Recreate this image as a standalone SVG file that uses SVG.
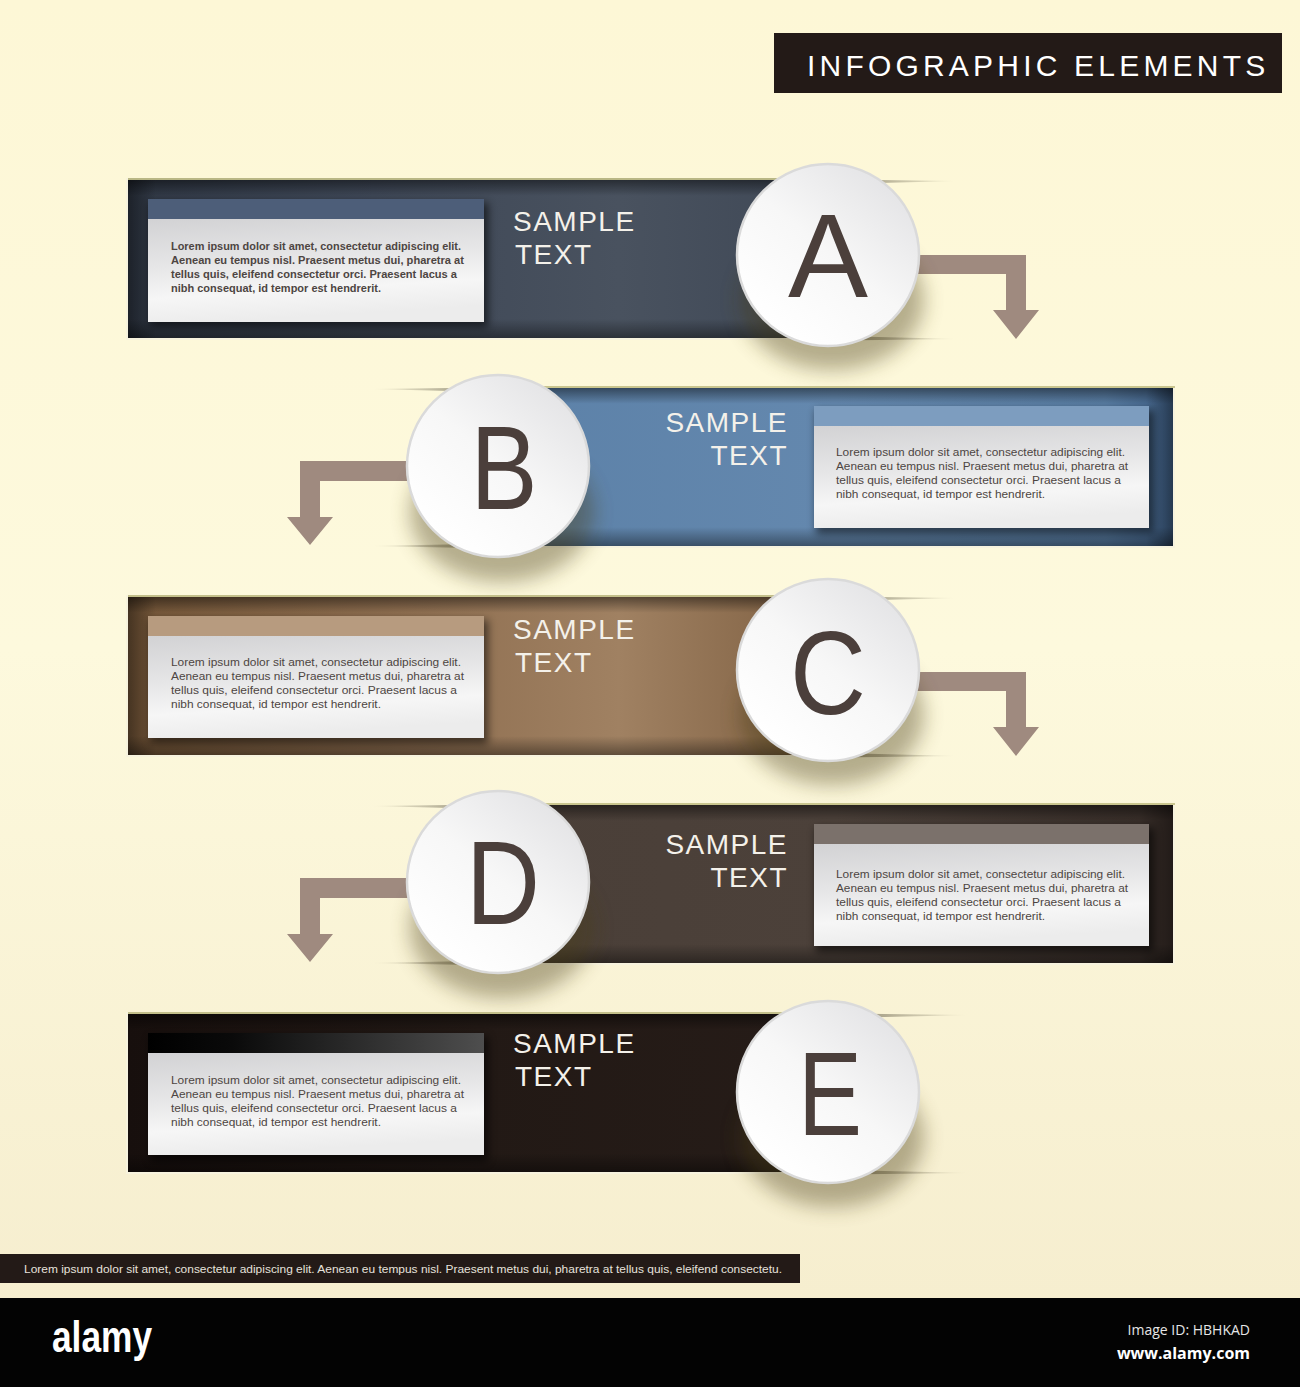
<svg xmlns="http://www.w3.org/2000/svg" width="1300" height="1387" viewBox="0 0 1300 1387">
<defs>
<style>
.sans{font-family:"Liberation Sans",Arial,sans-serif}
.lorem{font-family:"Liberation Sans",Arial,sans-serif;font-size:10.5px;fill:#4d4542}
.sample{font-family:"Liberation Sans",Arial,sans-serif;font-size:28px;letter-spacing:1.5px;fill:#f4f1ea}
.letter{font-family:"Liberation Sans",Arial,sans-serif;font-size:118px;fill:#4b3f3b;text-anchor:middle}
.arrow{fill:#9f8a7f}
.disc{fill:url(#circ);stroke:#dadada;stroke-width:2.5}
</style>
<linearGradient id="bg" x1="0" y1="0" x2="0" y2="1">
<stop offset="0" stop-color="#fdf7d6"/><stop offset="0.5" stop-color="#fdf9dd"/><stop offset="1" stop-color="#f6eecf"/>
</linearGradient>
<linearGradient id="gA" x1="0" y1="0" x2="1" y2="0">
<stop offset="0" stop-color="#303845"/><stop offset="0.35" stop-color="#3e4756"/><stop offset="0.7" stop-color="#49525f"/><stop offset="1" stop-color="#3f4856"/>
</linearGradient>
<linearGradient id="gB" x1="0" y1="0" x2="1" y2="0">
<stop offset="0" stop-color="#5c81a8"/><stop offset="0.5" stop-color="#6488ae"/><stop offset="0.9" stop-color="#587ca2"/><stop offset="1" stop-color="#3f5f85"/>
</linearGradient>
<linearGradient id="gC" x1="0" y1="0" x2="1" y2="0">
<stop offset="0" stop-color="#745638"/><stop offset="0.4" stop-color="#8e6e50"/><stop offset="0.7" stop-color="#a08162"/><stop offset="1" stop-color="#7e5f41"/>
</linearGradient>
<linearGradient id="gD" x1="0" y1="0" x2="1" y2="0">
<stop offset="0" stop-color="#4a3f38"/><stop offset="0.5" stop-color="#4c413a"/><stop offset="0.95" stop-color="#382e29"/><stop offset="1" stop-color="#221b18"/>
</linearGradient>
<linearGradient id="gE" x1="0" y1="0" x2="1" y2="0">
<stop offset="0" stop-color="#170f0d"/><stop offset="0.5" stop-color="#221915"/><stop offset="1" stop-color="#261c18"/>
</linearGradient>
<linearGradient id="vshade" x1="0" y1="0" x2="0" y2="1">
<stop offset="0" stop-color="#000" stop-opacity="0.45"/><stop offset="0.1" stop-color="#000" stop-opacity="0"/><stop offset="0.88" stop-color="#000" stop-opacity="0"/><stop offset="1" stop-color="#000" stop-opacity="0.4"/>
</linearGradient>
<linearGradient id="hshadeL" x1="0" y1="0" x2="1" y2="0">
<stop offset="0" stop-color="#000" stop-opacity="0.4"/><stop offset="0.04" stop-color="#000" stop-opacity="0"/><stop offset="1" stop-color="#000" stop-opacity="0"/>
</linearGradient>
<linearGradient id="hshadeR" x1="0" y1="0" x2="1" y2="0">
<stop offset="0" stop-color="#000" stop-opacity="0"/><stop offset="0.96" stop-color="#000" stop-opacity="0"/><stop offset="1" stop-color="#000" stop-opacity="0.4"/>
</linearGradient>
<linearGradient id="panel" x1="0" y1="0" x2="0.2" y2="1">
<stop offset="0" stop-color="#d2d2d4"/><stop offset="0.45" stop-color="#e6e6e7"/><stop offset="0.75" stop-color="#f6f6f6"/><stop offset="1" stop-color="#ececec"/>
</linearGradient>
<linearGradient id="stripE" x1="0" y1="0" x2="1" y2="0">
<stop offset="0" stop-color="#000"/><stop offset="0.25" stop-color="#0a0a0a"/><stop offset="1" stop-color="#4e4e4e"/>
</linearGradient>
<linearGradient id="circ" x1="0.2" y1="0.9" x2="0.85" y2="0.1">
<stop offset="0" stop-color="#ffffff"/><stop offset="0.5" stop-color="#f7f7f7"/><stop offset="1" stop-color="#e4e4e6"/>
</linearGradient>
<linearGradient id="wingR" x1="0" y1="0" x2="1" y2="0">
<stop offset="0" stop-color="#3b3524" stop-opacity="0.75"/><stop offset="1" stop-color="#3b3524" stop-opacity="0"/>
</linearGradient>
<linearGradient id="wingL" x1="1" y1="0" x2="0" y2="0">
<stop offset="0" stop-color="#3b3524" stop-opacity="0.75"/><stop offset="1" stop-color="#3b3524" stop-opacity="0"/>
</linearGradient>
<filter id="soft" x="-50%" y="-50%" width="200%" height="200%"><feGaussianBlur stdDeviation="10"/></filter>
<filter id="psh" x="-20%" y="-30%" width="140%" height="160%"><feGaussianBlur stdDeviation="4"/></filter>
</defs>

<rect id="background" x="0" y="0" width="1300" height="1298" fill="url(#bg)"/>

<g id="title">
<rect x="774" y="33" width="508" height="60" fill="#231a17"/>
<text x="807" y="76" class="sans" font-size="30" letter-spacing="4.2" fill="#ffffff">INFOGRAPHIC ELEMENTS</text>
</g>

<g id="connectors">
<path class="arrow" d="M900,255 H1026 V310 H1039 L1016,339 L993,310 H1006 V274 H900 Z"/>
<path class="arrow" d="M420,461 H300 V517 H287 L310,545 L333,517 H320 V481 H420 Z"/>
<path class="arrow" d="M900,672 H1026 V727 H1039 L1016,756 L993,727 H1006 V691 H900 Z"/>
<path class="arrow" d="M420,878 H300 V934 H287 L310,962 L333,934 H320 V898 H420 Z"/>
</g>

<g id="node-a">
<rect x="126" y="178" width="706" height="162" fill="#f7f3de"/>
<rect x="128" y="180" width="702" height="158" fill="url(#gA)"/>
<rect x="128" y="180" width="702" height="158" fill="url(#vshade)"/>
<rect x="128" y="180" width="702" height="158" fill="url(#hshadeL)"/>
<rect x="128" y="178" width="702" height="2" fill="#b9b785"/>
<rect x="150" y="203" width="338" height="124" fill="#000" opacity="0.6" filter="url(#psh)"/>
<rect x="148" y="199" width="336" height="20" fill="#4d5e79"/>
<rect x="148" y="219" width="336" height="103" fill="url(#panel)"/>
<text class="lorem" font-weight="bold" fill="#5a4a45" x="171" y="250" textLength="290" lengthAdjust="spacingAndGlyphs">Lorem ipsum dolor sit amet, consectetur adipiscing elit.</text>
<text class="lorem" font-weight="bold" fill="#5a4a45" x="171" y="264" textLength="293" lengthAdjust="spacingAndGlyphs">Aenean eu tempus nisl. Praesent metus dui, pharetra at</text>
<text class="lorem" font-weight="bold" fill="#5a4a45" x="171" y="278" textLength="286" lengthAdjust="spacingAndGlyphs">tellus quis, eleifend consectetur orci. Praesent lacus a</text>
<text class="lorem" font-weight="bold" fill="#5a4a45" x="171" y="292" textLength="210" lengthAdjust="spacingAndGlyphs">nibh consequat, id tempor est hendrerit.</text>
<text class="sample" x="513" y="231">SAMPLE</text>
<text class="sample" x="515" y="264">TEXT</text>
<path d="M800,179 L958,181 L800,185 Z" fill="url(#wingR)"/>
<path d="M800,335 L958,339 L800,341 Z" fill="url(#wingR)"/>
<ellipse cx="832" cy="300" rx="92" ry="70" fill="#4a3d18" opacity="0.4" filter="url(#soft)"/>
<circle class="disc" cx="828" cy="255" r="91"/>
<text class="letter" x="828" y="297" textLength="80" lengthAdjust="spacingAndGlyphs">A</text>
</g>

<g id="node-b">
<rect x="496" y="386" width="679" height="162" fill="#f7f3de"/>
<rect x="498" y="388" width="675" height="158" fill="url(#gB)"/>
<rect x="498" y="388" width="675" height="158" fill="url(#vshade)"/>
<rect x="498" y="388" width="675" height="158" fill="url(#hshadeR)"/>
<rect x="498" y="386" width="677" height="2" fill="#c9c58e"/>
<rect x="816" y="410" width="338" height="124" fill="#000" opacity="0.55" filter="url(#psh)"/>
<rect x="814" y="406" width="335" height="20" fill="#7d9dbf"/>
<rect x="814" y="426" width="335" height="102" fill="url(#panel)"/>
<text class="lorem" x="836" y="456" textLength="289" lengthAdjust="spacingAndGlyphs">Lorem ipsum dolor sit amet, consectetur adipiscing elit.</text>
<text class="lorem" x="836" y="470" textLength="292" lengthAdjust="spacingAndGlyphs">Aenean eu tempus nisl. Praesent metus dui, pharetra at</text>
<text class="lorem" x="836" y="484" textLength="285" lengthAdjust="spacingAndGlyphs">tellus quis, eleifend consectetur orci. Praesent lacus a</text>
<text class="lorem" x="836" y="498" textLength="209" lengthAdjust="spacingAndGlyphs">nibh consequat, id tempor est hendrerit.</text>
<text class="sample" x="788" y="432" text-anchor="end">SAMPLE</text>
<text class="sample" x="788" y="465" text-anchor="end">TEXT</text>
<path d="M528,387 L370,389 L528,393 Z" fill="url(#wingL)"/>
<path d="M528,543 L370,546 L528,549 Z" fill="url(#wingL)"/>
<ellipse cx="502" cy="512" rx="92" ry="70" fill="#4a3d18" opacity="0.4" filter="url(#soft)"/>
<circle class="disc" cx="498" cy="466" r="91"/>
<text class="letter" x="504" y="509" textLength="67" lengthAdjust="spacingAndGlyphs">B</text>
</g>

<g id="node-c">
<rect x="126" y="595" width="706" height="162" fill="#f7f3de"/>
<rect x="128" y="597" width="702" height="158" fill="url(#gC)"/>
<rect x="128" y="597" width="702" height="158" fill="url(#vshade)"/>
<rect x="128" y="597" width="702" height="158" fill="url(#hshadeL)"/>
<rect x="128" y="595" width="702" height="2" fill="#c3bf8a"/>
<rect x="150" y="620" width="338" height="124" fill="#000" opacity="0.55" filter="url(#psh)"/>
<rect x="148" y="616" width="336" height="20" fill="#b79b7f"/>
<rect x="148" y="636" width="336" height="102" fill="url(#panel)"/>
<text class="lorem" x="171" y="666" textLength="290" lengthAdjust="spacingAndGlyphs">Lorem ipsum dolor sit amet, consectetur adipiscing elit.</text>
<text class="lorem" x="171" y="680" textLength="293" lengthAdjust="spacingAndGlyphs">Aenean eu tempus nisl. Praesent metus dui, pharetra at</text>
<text class="lorem" x="171" y="694" textLength="286" lengthAdjust="spacingAndGlyphs">tellus quis, eleifend consectetur orci. Praesent lacus a</text>
<text class="lorem" x="171" y="708" textLength="210" lengthAdjust="spacingAndGlyphs">nibh consequat, id tempor est hendrerit.</text>
<text class="sample" x="513" y="639">SAMPLE</text>
<text class="sample" x="515" y="672">TEXT</text>
<path d="M800,596 L958,598 L800,602 Z" fill="url(#wingR)"/>
<path d="M800,752 L958,756 L800,758 Z" fill="url(#wingR)"/>
<ellipse cx="832" cy="715" rx="92" ry="70" fill="#4a3d18" opacity="0.4" filter="url(#soft)"/>
<circle class="disc" cx="828" cy="670" r="91"/>
<text class="letter" x="828" y="714" textLength="76" lengthAdjust="spacingAndGlyphs">C</text>
</g>

<g id="node-d">
<rect x="496" y="803" width="679" height="162" fill="#f7f3de"/>
<rect x="498" y="805" width="675" height="158" fill="url(#gD)"/>
<rect x="498" y="805" width="675" height="158" fill="url(#vshade)"/>
<rect x="498" y="803" width="677" height="2" fill="#c9c58e"/>
<rect x="816" y="828" width="338" height="124" fill="#000" opacity="0.6" filter="url(#psh)"/>
<rect x="814" y="824" width="335" height="20" fill="#7b716b"/>
<rect x="814" y="844" width="335" height="102" fill="url(#panel)"/>
<text class="lorem" x="836" y="878" textLength="289" lengthAdjust="spacingAndGlyphs">Lorem ipsum dolor sit amet, consectetur adipiscing elit.</text>
<text class="lorem" x="836" y="892" textLength="292" lengthAdjust="spacingAndGlyphs">Aenean eu tempus nisl. Praesent metus dui, pharetra at</text>
<text class="lorem" x="836" y="906" textLength="285" lengthAdjust="spacingAndGlyphs">tellus quis, eleifend consectetur orci. Praesent lacus a</text>
<text class="lorem" x="836" y="920" textLength="209" lengthAdjust="spacingAndGlyphs">nibh consequat, id tempor est hendrerit.</text>
<text class="sample" x="788" y="854" text-anchor="end">SAMPLE</text>
<text class="sample" x="788" y="887" text-anchor="end">TEXT</text>
<path d="M528,804 L370,806 L528,810 Z" fill="url(#wingL)"/>
<path d="M528,960 L370,963 L528,966 Z" fill="url(#wingL)"/>
<ellipse cx="502" cy="928" rx="92" ry="70" fill="#4a3d18" opacity="0.4" filter="url(#soft)"/>
<circle class="disc" cx="498" cy="882" r="91"/>
<text class="letter" x="503" y="924" textLength="74" lengthAdjust="spacingAndGlyphs">D</text>
</g>

<g id="node-e">
<rect x="126" y="1012" width="706" height="162" fill="#f7f3de"/>
<rect x="128" y="1014" width="702" height="158" fill="url(#gE)"/>
<rect x="128" y="1014" width="702" height="158" fill="url(#vshade)"/>
<rect x="128" y="1012" width="702" height="2" fill="#c3bf8a"/>
<rect x="150" y="1037" width="338" height="124" fill="#000" opacity="0.6" filter="url(#psh)"/>
<rect x="148" y="1033" width="336" height="20" fill="url(#stripE)"/>
<rect x="148" y="1053" width="336" height="102" fill="url(#panel)"/>
<text class="lorem" x="171" y="1084" textLength="290" lengthAdjust="spacingAndGlyphs">Lorem ipsum dolor sit amet, consectetur adipiscing elit.</text>
<text class="lorem" x="171" y="1098" textLength="293" lengthAdjust="spacingAndGlyphs">Aenean eu tempus nisl. Praesent metus dui, pharetra at</text>
<text class="lorem" x="171" y="1112" textLength="286" lengthAdjust="spacingAndGlyphs">tellus quis, eleifend consectetur orci. Praesent lacus a</text>
<text class="lorem" x="171" y="1126" textLength="210" lengthAdjust="spacingAndGlyphs">nibh consequat, id tempor est hendrerit.</text>
<text class="sample" x="513" y="1053">SAMPLE</text>
<text class="sample" x="515" y="1086">TEXT</text>
<path d="M800,1013 L970,1015 L800,1019 Z" fill="url(#wingR)"/>
<path d="M800,1169 L970,1173 L800,1175 Z" fill="url(#wingR)"/>
<ellipse cx="832" cy="1137" rx="92" ry="70" fill="#4a3d18" opacity="0.4" filter="url(#soft)"/>
<circle class="disc" cx="828" cy="1092" r="91"/>
<text class="letter" x="830" y="1135" textLength="64" lengthAdjust="spacingAndGlyphs">E</text>
</g>

<g id="footer-note">
<rect x="0" y="1254" width="800" height="29" fill="#231a17"/>
<text class="sans" x="24" y="1273" font-size="10" fill="#e6e2dc" textLength="758" lengthAdjust="spacingAndGlyphs">Lorem ipsum dolor sit amet, consectetur adipiscing elit. Aenean eu tempus nisl. Praesent metus dui, pharetra at tellus quis, eleifend consectetu.</text>
</g>

<g id="credit">
<rect x="0" y="1298" width="1300" height="89" fill="#030303"/>
<text class="sans" x="52" y="1352" font-size="44" font-weight="bold" fill="#ffffff" textLength="100" lengthAdjust="spacingAndGlyphs">alamy</text>
<text x="1250" y="1335" font-family="'Open Sans','Noto Sans',sans-serif" font-size="14" fill="#e6e6e6" text-anchor="end">Image ID: HBHKAD</text>
<text x="1250" y="1359" font-family="'Open Sans','Noto Sans',sans-serif" font-size="16" font-weight="bold" fill="#ffffff" text-anchor="end">www.alamy.com</text>
</g>
</svg>
